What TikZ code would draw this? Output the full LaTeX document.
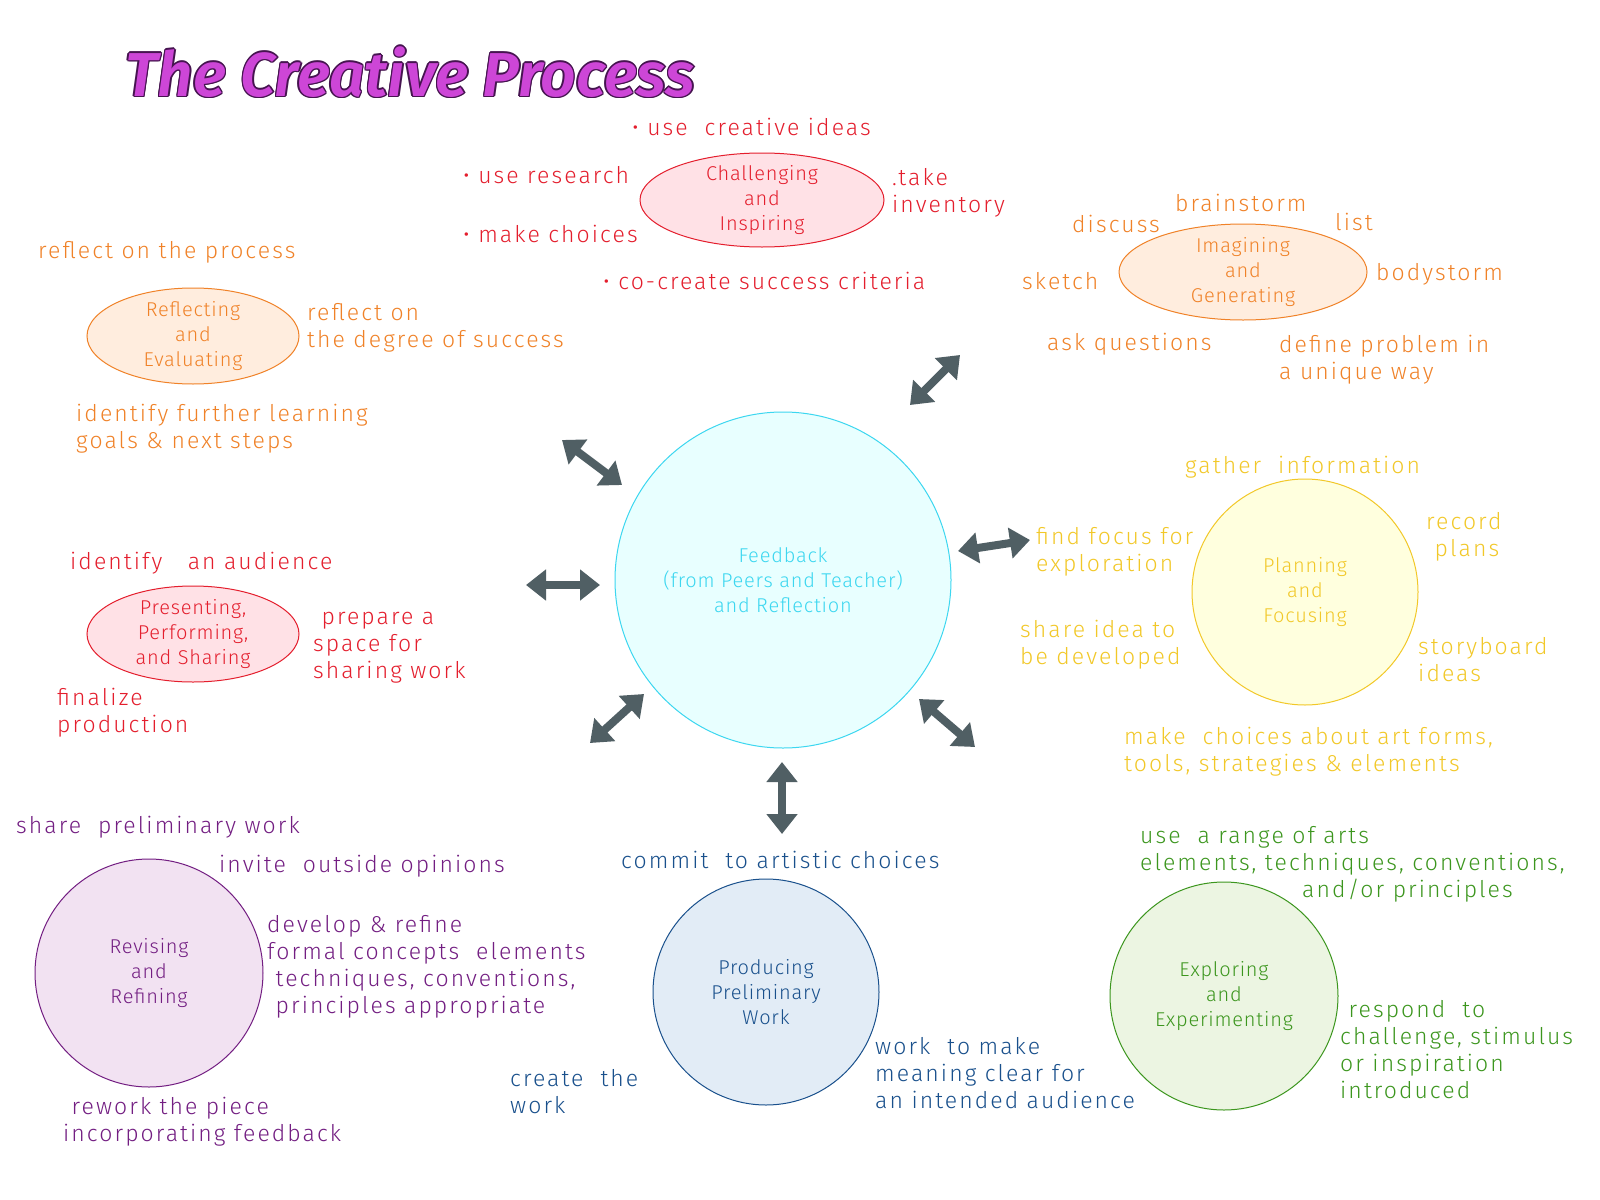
\documentclass[tikz,border=0pt]{standalone}
\usepackage{fontspec}
\setmainfont{Fira Sans}[UprightFont=* Light]
\newfontfamily\handfont{Fira Sans Light}[LetterSpace=9]
\newfontfamily\inhandfont{Fira Sans Light}[LetterSpace=4]
\usetikzlibrary{arrows.meta}
\definecolor{cred}{RGB}{228,30,45}
\definecolor{corange}{RGB}{240,130,40}
\definecolor{cyellow}{RGB}{242,200,40}
\definecolor{cgreen}{RGB}{60,150,30}
\definecolor{cblue}{RGB}{25,80,140}
\definecolor{cpurple}{RGB}{115,30,130}
\definecolor{ccyan}{RGB}{60,215,240}
\definecolor{carrow}{RGB}{80,95,100}
\definecolor{ctitle}{RGB}{205,70,215}
\definecolor{ctitled}{RGB}{70,20,80}
\begin{document}
\begin{tikzpicture}[x=1pt,y=-1pt,
  lab/.style={anchor=west,font=\handfont\fontsize{23}{27}\selectfont,align=left,inner sep=0pt},
  inlab/.style={font=\inhandfont\fontsize{20}{25}\selectfont,align=center},
  ttl/.style={anchor=west,font=\fontsize{62}{62}\selectfont\bfseries\itshape,inner sep=0pt},
  dbl/.style={{Triangle[length=20pt,width=30pt]}-{Triangle[length=20pt,width=30pt]},line width=8pt,draw=carrow}]
\useasboundingbox[fill=white] (0,0) rectangle (1600,1199);
\foreach \dx/\dy in {-1.5/0,1.5/0,0/-1.5,0/1.5,-1/-1,1/1,-1/1,1/-1}
  \node[ttl,text=ctitled] at (125+\dx,72+\dy) {The Creative Process};
\node[ttl,text=ctitle] (title) at (125,72) {The Creative Process};
% main shapes
\draw[cred,line width=1pt,fill={rgb,255:red,255;green,225;blue,230}] (762,200) ellipse (122 and 47);
\node[inlab,text=cred] (chal) at (762,200) {Challenging\\and\\Inspiring};
\draw[corange,line width=1pt,fill={rgb,255:red,255;green,237;blue,222}] (1243,272) ellipse (124 and 48);
\node[inlab,text=corange] (imag) at (1243,272) {Imagining\\and\\Generating};
\draw[corange,line width=1pt,fill={rgb,255:red,255;green,237;blue,222}] (193,336) ellipse (106 and 48);
\node[inlab,text=corange] (refl) at (193,336) {Reflecting\\and\\Evaluating};
\draw[cred,line width=1pt,fill={rgb,255:red,255;green,225;blue,230}] (193,634) ellipse (106 and 48);
\node[inlab,text=cred] (pres) at (193,634) {Presenting,\\Performing,\\and Sharing};
\draw[ccyan,line width=1pt,fill={rgb,255:red,232;green,255;blue,255}] (783,580) circle (168);
\node[inlab,text=ccyan] (feed) at (783,580) {Feedback\\(from Peers and Teacher)\\and Reflection};
\draw[cyellow,line width=1pt,fill={rgb,255:red,255;green,255;blue,222}] (1305,592) circle (113);
\node[inlab,text=cyellow] (plan) at (1305,592) {Planning\\and\\Focusing};
\draw[cgreen,line width=1pt,fill={rgb,255:red,236;green,245;blue,226}] (1224,996) circle (114);
\node[inlab,text=cgreen] (expl) at (1224,996) {Exploring\\and\\Experimenting};
\draw[cblue,line width=1pt,fill={rgb,255:red,226;green,236;blue,246}] (766,992) circle (113);
\node[inlab,text=cblue] (prod) at (766,992) {Producing\\Preliminary\\Work};
\draw[cpurple,line width=1pt,fill={rgb,255:red,242;green,226;blue,242}] (149,973) circle (114);
\node[inlab,text=cpurple] (revi) at (149,973) {Revising\\and\\Refining};
% arrows
\coordinate (a1) at (910,405); \coordinate (b1) at (960,355);
\coordinate (a2) at (562,440); \coordinate (b2) at (622,485);
\coordinate (a3) at (526,585); \coordinate (b3) at (600,585);
\coordinate (a4) at (958,551); \coordinate (b4) at (1030,540);
\coordinate (a5) at (590,743); \coordinate (b5) at (644,694);
\coordinate (a6) at (919,699); \coordinate (b6) at (975,747);
\coordinate (a7) at (782,762); \coordinate (b7) at (782,834);
\foreach \i in {1,...,7} \draw[dbl] (a\i) -- (b\i);
% red texts (challenging)
\node[lab,text=cred] at (632,127) {• use \ creative ideas};
\node[lab,text=cred] at (463,175) {• use research};
\node[lab,text=cred] at (463,234) {• make choices};
\node[lab,text=cred] at (892,193) {.take\\ inventory};
\node[lab,text=cred] at (603,281) {• co-create success criteria};
% orange (imagining)
\node[lab,text=corange] at (1175,203) {brainstorm};
\node[lab,text=corange] at (1072,224) {discuss};
\node[lab,text=corange] at (1335,222) {list};
\node[lab,text=corange] at (1022,281) {sketch};
\node[lab,text=corange] at (1376,274) {bodystorm};
\node[lab,text=corange] at (1047,344) {ask questions};
\node[lab,text=corange] at (1279,360) {define problem in\\ a unique way};
% orange (reflecting)
\node[lab,text=corange] at (38,252) {reflect on the process};
\node[lab,text=corange] at (307,328) {reflect on\\ the degree of success};
\node[lab,text=corange] at (76,429) {identify further learning\\goals \& next steps};
% yellow (planning)
\node[lab,text=cyellow] at (1185,467) {gather \ information};
\node[lab,text=cyellow] at (1426,537) {record\\ \ plans};
\node[lab,text=cyellow] at (1036,552) {find focus for\\exploration};
\node[lab,text=cyellow] at (1020,645) {share idea to\\ be developed};
\node[lab,text=cyellow] at (1418,660) {storyboard\\ ideas};
\node[lab,text=cyellow] at (1124,752) {make \ choices about art forms,\\ tools, strategies \& elements};
% red (presenting)
\node[lab,text=cred] at (70,563) {identify \ \ an audience};
\node[lab,text=cred] at (313,648) {\ prepare a\\ space for\\sharing work};
\node[lab,text=cred] at (57,713) {finalize\\production};
% green (exploring)
\node[lab,text=cgreen] at (1140,864) {use \ a range of arts\\elements, techniques, conventions,\\\hspace*{162pt}and/or principles};
\node[lab,text=cgreen] at (1340,1050) {\ respond \ to\\challenge, stimulus\\or inspiration\\introduced};
% blue (producing)
\node[lab,text=cblue] at (621,860) {commit \ to artistic choices};
\node[lab,text=cblue] at (510,1092) {create \ the\\ work};
\node[lab,text=cblue] at (875,1073) {work \ to make\\meaning clear for\\an intended audience};
% purple (revising)
\node[lab,text=cpurple] at (16,827) {share \ preliminary work};
\node[lab,text=cpurple] at (219,866) {invite \ outside opinions};
\node[lab,text=cpurple] at (267,967) {develop \& refine\\formal concepts \ elements\\ \ techniques, conventions,\\ \ principles appropriate};
\node[lab,text=cpurple] at (63,1122) {\ rework the piece\\incorporating feedback};
\end{tikzpicture}
\end{document}
